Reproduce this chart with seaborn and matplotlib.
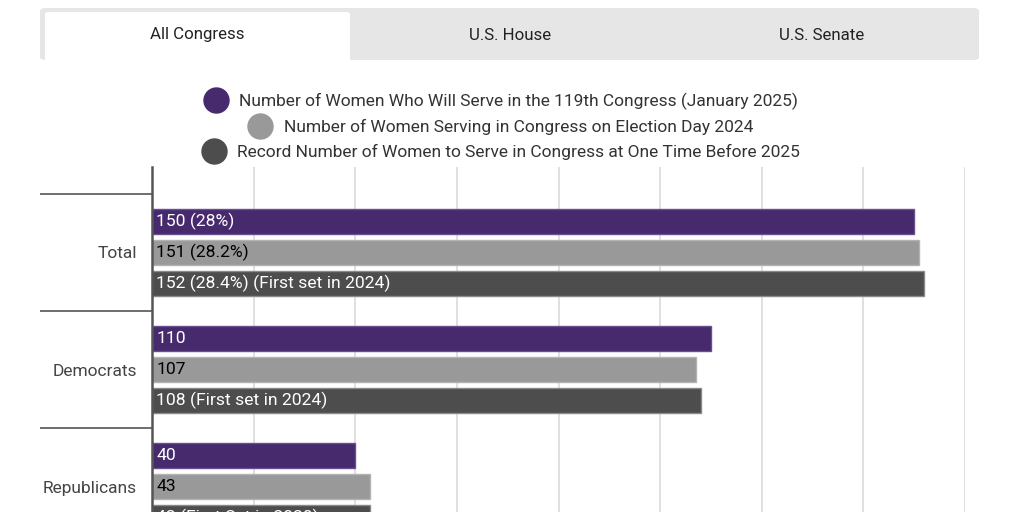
import pandas as pd
import seaborn as sns
import matplotlib.pyplot as plt
from matplotlib.lines import Line2D
from matplotlib.patches import FancyBboxPatch, Rectangle

# data
groups = ["Total", "Democrats", "Republicans"]
series = [
    "Number of Women Who Will Serve in the 119th Congress (January 2025)",
    "Number of Women Serving in Congress on Election Day 2024",
    "Record Number of Women to Serve in Congress at One Time Before 2025",
]
values_119th = [150, 110, 40]
values_election_day = [151, 107, 43]
values_record = [152, 108, 43]
labels_119th = ["150 (28%)", "110", "40"]
labels_election_day = ["151 (28.2%)", "107", "43"]
labels_record = ["152 (28.4%) (First set in 2024)", "108 (First set in 2024)", "43 (First Set in 2020)"]
tabs = ["All Congress", "U.S. House", "U.S. Senate"]

colors = ["#47296e", "#999999", "#4d4d4d"]
edge_colors = ["#6a4f8f", "#b3b3b3", "#8a8a8a"]
text_colors = ["white", "black", "white"]

df = pd.DataFrame({
    "group": groups * 3,
    "series": [series[0]] * 3 + [series[1]] * 3 + [series[2]] * 3,
    "value": values_119th + values_election_day + values_record,
})
bar_labels = [labels_119th, labels_election_day, labels_record]

sns.set_style("white")
plt.rcParams['font.family'] = ['Roboto', 'DejaVu Sans']

fig = plt.figure(figsize=(10.24, 5.12), dpi=100)
W, H = 1024, 512

# tab strip
fig.patches.append(FancyBboxPatch((40 / W, 1 - 60 / H), 939 / W, 52 / H, boxstyle="round,pad=0,rounding_size=0.006",
                                  transform=fig.transFigure, facecolor="#e6e6e6", edgecolor="none"))
fig.patches.append(FancyBboxPatch((45 / W, 1 - 60 / H), 305 / W, 48 / H, boxstyle="round,pad=0,rounding_size=0.004",
                                  transform=fig.transFigure, facecolor="white", edgecolor="none"))
fig.patches.append(Rectangle((45 / W, 1 - 60 / H), 305 / W, 10 / H, transform=fig.transFigure,
                             facecolor="white", edgecolor="none"))
for name, xc in zip(tabs, [197, 510, 822]):
    fig.text(xc / W, 1 - 35 / H, name, ha="center", va="center", fontsize=12.2, color="#222222")

# legend, one centred line per series
for i, yc in enumerate([101, 127, 152]):
    h = Line2D([], [], marker="o", linestyle="", markersize=18, markerfacecolor=colors[i], markeredgecolor=colors[i])
    leg = fig.legend(handles=[h], labels=[series[i]], loc="center", bbox_to_anchor=(502 / W, 1 - yc / H),
                     frameon=False, prop={"size": 12.5}, handletextpad=0.8, handlelength=1.1,
                     borderpad=0, borderaxespad=0)
    for t in leg.get_texts():
        t.set_color("#333333")

ax = fig.add_axes([152 / W, 1 - 572 / H, 813 / W, 405 / H])
sns.barplot(data=df, y="group", x="value", hue="series", order=groups, hue_order=series, orient="h",
            palette=colors, saturation=1, width=0.8, gap=0.2, legend=False, ax=ax)

for k, cont in enumerate(ax.containers):
    for p, lab in zip(cont.patches, bar_labels[k]):
        p.set_edgecolor(edge_colors[k])
        p.set_linewidth(1)
        ax.annotate(lab, (0, p.get_y() + p.get_height() / 2), xytext=(3, 0), textcoords="offset points",
                    ha="left", va="center", fontsize=12.6, color=text_colors[k])

ax.set_xlim(0, 160)
ax.set_ylim(2.5 + 0.23, -0.5 - 0.23)
ax.set_xticks(range(0, 161, 20))
ax.tick_params(axis="x", length=0, labelbottom=False)
ax.grid(axis="x", color="#dddddd", linewidth=1.3)
ax.set_axisbelow(True)
ax.set_xlabel("")
ax.set_ylabel("")
for s in ["top", "right", "bottom"]:
    ax.spines[s].set_visible(False)
ax.spines["left"].set_color("#555555")
ax.spines["left"].set_linewidth(1.8)

# group separators drawn as long minor ticks
ax.set_yticks([-0.5, 0.5, 1.5, 2.5], minor=True)
ax.tick_params(axis="y", which="minor", left=True, length=81, width=1.2, color="#555555")
ax.tick_params(axis="y", which="major", left=False, length=0, pad=11, labelsize=12.5, labelcolor="#444444")

plt.savefig("out.png", dpi=100)
plt.close()
